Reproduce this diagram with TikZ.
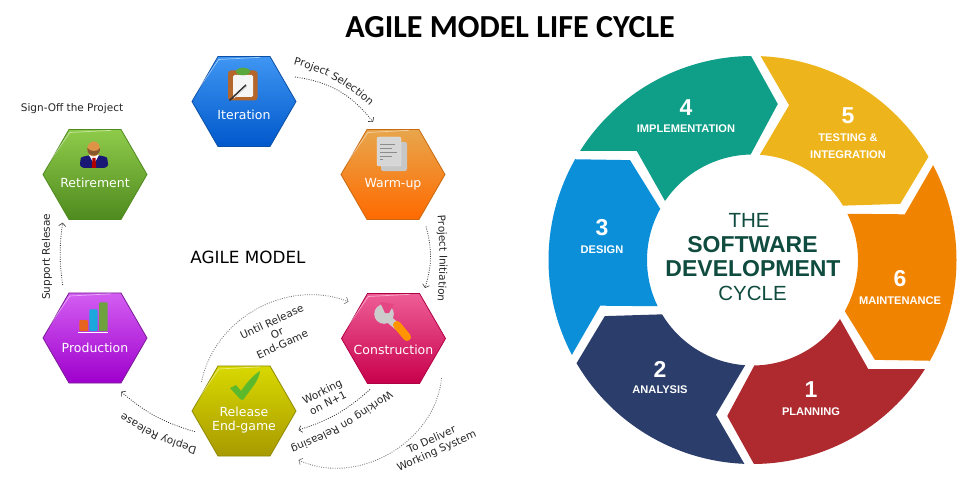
\documentclass[tikz,border=0pt]{standalone}
\usepackage{fontspec}
\usetikzlibrary{shapes.geometric,arrows.meta,decorations.text,calc}
\newfontfamily\verdf{DejaVu Sans}
\newfontfamily\arialf{Liberation Sans}
\newfontfamily\calibf{Carlito}
\newcommand{\lblf}{\verdf\fontsize{10.5}{12.5}\selectfont}
\definecolor{wteal}{HTML}{0F9E88}
\definecolor{wyellow}{HTML}{EDB51B}
\definecolor{worange}{HTML}{F08300}
\definecolor{wred}{HTML}{AE2A2F}
\definecolor{wnavy}{HTML}{2A3D6B}
\definecolor{wblue}{HTML}{0C8FD9}
\definecolor{wtext}{HTML}{0F4C3F}
\definecolor{hbt}{HTML}{3F96F2}\definecolor{hbb}{HTML}{0058CC}\definecolor{hbd}{HTML}{0B4FA6}
\definecolor{hgt}{HTML}{8FCB4A}\definecolor{hgb}{HTML}{4F8A1F}\definecolor{hgd}{HTML}{4F8A1F}
\definecolor{hot}{HTML}{E8A64C}\definecolor{hob}{HTML}{FF6A00}\definecolor{hod}{HTML}{C96A10}
\definecolor{hpt}{HTML}{EE5E96}\definecolor{hpb}{HTML}{C8004C}\definecolor{hpd}{HTML}{B00045}
\definecolor{hvt}{HTML}{D35EF2}\definecolor{hvb}{HTML}{9E00CC}\definecolor{hvd}{HTML}{7A1C96}
\definecolor{hyt}{HTML}{D8D800}\definecolor{hyb}{HTML}{A89A00}\definecolor{hyd}{HTML}{8F8A00}
\definecolor{iclip}{HTML}{B5662A}\definecolor{iclipg}{HTML}{5AA83C}
\definecolor{icheck}{HTML}{5DB92C}
\definecolor{ibaro}{HTML}{E8641E}\definecolor{ibarb}{HTML}{1CA8DC}\definecolor{ibarg}{HTML}{6FA23E}
\tikzset{
  x=1pt,y=1pt,
  hexn/.style n args={3}{regular polygon,regular polygon sides=6,minimum size=104pt,inner sep=0pt,outer sep=0pt,
    top color=#1,bottom color=#2,draw=#3,line width=0.8pt},
  hexl/.style={text=white,font=\verdf\fontsize{12.5}{14.6}\selectfont,align=center,inner sep=0pt},
  conn/.style={draw=black!80,line width=0.8pt,dash pattern=on 0.9pt off 1.4pt,-{Straight Barb[length=3pt,width=7pt,line width=0.6pt]}},
  connl/.style={conn,draw=black!55},
  lbl/.style={font=\lblf,text=black!85,align=center,inner sep=0pt},
  wnum/.style={text=white,font=\arialf\bfseries\fontsize{23}{24}\selectfont,inner sep=0pt},
  wlab/.style={text=white,font=\arialf\bfseries\fontsize{11.1}{12}\selectfont,inner sep=0pt},
  ctext/.style={text=wtext,font=\arialf\fontsize{20.5}{22}\selectfont,inner sep=0pt},
  cbold/.style={text=wtext,font=\arialf\bfseries\fontsize{23}{24}\selectfont,inner sep=0pt},
  curv/.style={decorate,decoration={text along path,text align=center,text={|\lblf\color{black!85}|#1}}},
  gloss/.style={white,opacity=0.5,line width=0.7pt},
}
\begin{document}
\begin{tikzpicture}
\useasboundingbox (0,0) rectangle (973,-481);
\fill[white] (0,0) rectangle (973,-481);
\node[inner sep=0pt,font=\calibf\bfseries\fontsize{32.1}{34}\selectfont] (title) at (510,-27) {AGILE MODEL LIFE CYCLE};
% wheel
\begin{scope}[shift={(752.5,-260)}]
\foreach \rr/\cc in {0/wteal,-60/wyellow,-120/worange,180/wred,120/wnavy,60/wblue}{
  \begin{scope}[rotate=\rr]
  \fill[\cc] (147.7:204) arc[start angle=147.7,end angle=90.4,radius=204] -- (80.8:158) -- (91:105.5)
    arc[start angle=91,end angle=146,radius=105.5] -- (136.7:159) -- cycle;
  \end{scope}
}
\end{scope}
\node[wnum] (n4) at (686,-108) {4};
\node[wlab] (l4) at (686,-128.5) {IMPLEMENTATION};
\node[wnum] (n5) at (848,-116) {5};
\node[wlab] (l5a) at (848,-137.5) {TESTING \&};
\node[wlab] (l5b) at (848,-155) {INTEGRATION};
\node[wnum] (n6) at (900,-279) {6};
\node[wlab] (l6) at (900,-301) {MAINTENANCE};
\node[wnum] (n1) at (811,-390) {1};
\node[wlab] (l1) at (811,-412) {PLANNING};
\node[wnum] (n2) at (660,-369) {2};
\node[wlab] (l2) at (660,-390) {ANALYSIS};
\node[wnum] (n3) at (602,-228) {3};
\node[wlab] (l3) at (602,-249.5) {DESIGN};
\node[ctext] (cthe) at (749,-220) {THE};
\node[cbold] (csoft) at (752.5,-245) {SOFTWARE};
\node[cbold] (cdev) at (753,-269) {DEVELOPMENT};
\node[ctext] (ccyc) at (752.5,-293) {CYCLE};
% hexagons
\node[hexn={hbt}{hbb}{hbd}] (iter) at (244,-101.5) {};
\node[hexn={hgt}{hgb}{hgd}] (reti) at (95,-174.5) {};
\node[hexn={hot}{hob}{hod}] (warm) at (393,-174.5) {};
\node[hexn={hvt}{hvb}{hvd}] (prod) at (95,-338) {};
\node[hexn={hpt}{hpb}{hpd}] (cons) at (393.5,-338.5) {};
\node[hexn={hyt}{hyb}{hyd}] (rele) at (244,-411) {};
\foreach \h in {iter,reti,warm,prod,cons,rele}{
  \draw[gloss] ([shift={(170:49)}]\h.center) -- ([shift={(121:49)}]\h.center) -- ([shift={(70:47)}]\h.center);
}
\node[hexl] (iterl) at (244,-115) {Iteration};
\node[hexl] (retil) at (95,-183) {Retirement};
\node[hexl] (warml) at (393,-184.5) {Warm-up};
\node[hexl] (prodl) at (95,-347.5) {Production};
\node[hexl] (consl) at (393.5,-349.5) {Construction};
\node[hexl] (relel) at (244,-420) {Release\\End-game};
% clipboard icon
\fill[iclip,rounded corners=3pt] (228,-70.5) rectangle (257.5,-100.5);
\fill[white!92!gray,rounded corners=1.5pt] (233,-75) rectangle (253,-97);
\fill[iclipg] (243,-71.5) ellipse (7 and 3.8);
\draw[black!80,line width=1.6pt] (229.5,-100.5) -- (246,-85);
\draw[white!70!gray,line width=0.9pt] (234,-98) -- (247,-86);
% documents icon
\fill[black!22,rounded corners=2pt] (381,-142) rectangle (407,-171);
\fill[black!16,rounded corners=2pt,draw=white!85!gray,line width=0.4pt] (377,-137) rectangle (401,-166);
\foreach \yy/\xx in {144/395,148/392,152/397,156/392,159.5/383}{
  \draw[black!45,line width=0.6pt] (380,-\yy) -- (\xx,-\yy);
}
% person icon
\fill[blue!40!black!90,rounded corners=4pt] (80,-168) -- (80,-162) .. controls (81,-157) and (86,-156) .. (90,-155) -- (98,-155) .. controls (102,-156) and (107,-157) .. (108,-162) -- (108,-168) -- cycle;
\fill[white] (89,-155) -- (99,-155) -- (94,-164) -- cycle;
\fill[red!70!black] (92.5,-158) -- (95.5,-158) -- (96.2,-168) -- (91.8,-168) -- cycle;
\fill[brown!60!orange!85] (93.7,-149) ellipse (6.3 and 7.5);
\fill[brown!70!black] (87.4,-148) .. controls (86,-158) and (101,-158) .. (100,-148) .. controls (98,-152) and (90,-152) .. cycle;
% wrench icon
\draw[black!20,line width=7pt] (386,-317) -- (398,-327);
\draw[orange!85!yellow,line width=8pt,line cap=round] (397,-325) -- (407,-337);
\fill[black!20] (384,-314) circle (9.8);
\fill[hpt!75!hpb] (380,-302) -- (394,-304) -- (389,-313) -- (385,-313) -- cycle;
% check icon
\fill[icheck] (230,-388) -- (236,-385) -- (241,-391) .. controls (246,-384) and (252,-376) .. (260,-371) .. controls (259,-381) and (250,-390) .. (243,-400) -- (240,-399) -- cycle;
% chart icon
\fill[ibaro,rounded corners=1pt] (79.3,-320) rectangle (88,-331);
\fill[ibarb,rounded corners=1pt] (89.3,-309.3) rectangle (97.7,-331);
\fill[ibarg,rounded corners=1pt] (99,-302.3) rectangle (107.7,-331);
\draw[white,line width=1pt] (78.3,-332.3) -- (108.3,-332.3);
% connectors
\draw[conn] ([shift={(51,24.5)}]iter.center) to[bend left=22] ([shift={(-20,52.5)}]warm.center);
\draw[conn] ([shift={(33,-52)}]warm.center) to[bend left=16] ([shift={(31.5,50.5)}]cons.center);
\draw[connl] ([shift={(48,-39.5)}]cons.center) to[bend left=55] ([shift={(54.5,-49)}]rele.center);
\draw[conn] ([shift={(-23.5,-51)}]cons.center) to[bend left=12] ([shift={(54.5,-19)}]rele.center);
\draw[connl] ([shift={(-42.5,29)}]rele.center) to[bend left=50] ([shift={(-45,36.8)}]cons.center);
\draw[conn] ([shift={(-49,-20.7)}]rele.center) to[bend left=12] ([shift={(26,-53.7)}]prod.center);
\draw[conn] ([shift={(-32.3,53)}]prod.center) to[bend left=8] ([shift={(-32.3,-48.2)}]reti.center);
% labels
\node[lbl] (signoff) at (72,-109) {Sign-Off the Project};
\node[font=\verdf\fontsize{16.8}{18}\selectfont,inner sep=0pt] (agile) at (248,-257) {AGILE MODEL};
\node[lbl,rotate=25] (until) at (277,-333) {Until Release\\Or\\End-Game};
\node[lbl,rotate=27] (wn1) at (325,-397.3) {Working\\on N+1};
\node[lbl,rotate=24] (todel) at (434.3,-445.7) {To Deliver\\Working System};
\node[lbl,rotate=90] (supp) at (47,-257) {Support Relesae};
\coordinate (ps1) at (281,-61);
\coordinate (ps2) at (379,-115);
\path[curv=Project Selection] (ps1) to[bend left=16] (ps2);
\coordinate (pi1) at (436,-200);
\coordinate (pi2) at (436,-317);
\path[curv=Project Initiation] (pi1) to[bend left=6] (pi2);
\coordinate (wr1) at (398,-383);
\coordinate (wr2) at (280,-451);
\path[curv=Working on Releasing] (wr1) to[bend left=9] (wr2);
\coordinate (dr1) at (208,-450);
\coordinate (dr2) at (114,-407);
\path[curv=Deploy Release] (dr1) to[bend left=10] (dr2);
\end{tikzpicture}
\end{document}
